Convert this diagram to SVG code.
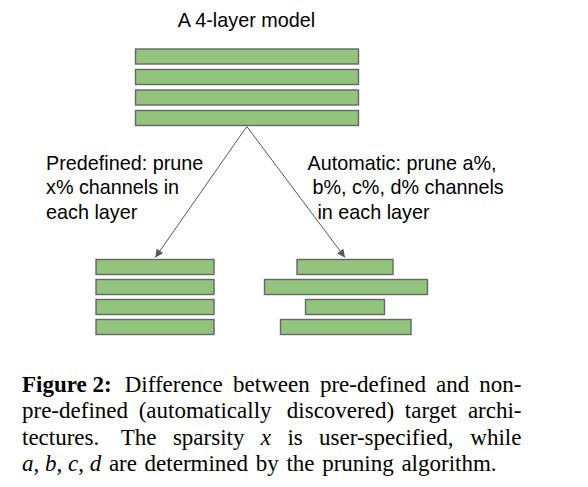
<svg xmlns="http://www.w3.org/2000/svg" width="588" height="487" viewBox="0 0 588 487">
<defs>
<style>
.bar{fill:#93c47d;stroke:#666;stroke-width:1.4}
.lbl{font-family:"Liberation Sans",Arial,sans-serif;font-size:19.8px;fill:#000}
.cap{font-family:"Liberation Serif","Times New Roman",serif;font-size:23px;fill:#000}
.b{font-weight:bold}
.i{font-style:italic}
.conn{stroke:#595959;stroke-width:1;fill:none}
</style>
<marker id="ah" viewBox="0 0 10 10" refX="10" refY="5" markerWidth="9" markerHeight="8" markerUnits="userSpaceOnUse" orient="auto">
<path d="M0,0 L10,5 L0,10 z" fill="#595959"/>
</marker>
</defs>
<rect width="588" height="487" fill="#fff"/>

<g id="model4">
<text class="lbl" x="177.7" y="26.5">A 4-layer model</text>
<rect class="bar" x="135.5" y="49" width="223" height="15"/>
<rect class="bar" x="135.5" y="69.5" width="223" height="15"/>
<rect class="bar" x="135.5" y="90" width="223" height="15"/>
<rect class="bar" x="135.5" y="110.5" width="223" height="15"/>
</g>

<g id="predefined">
<rect class="bar" x="96" y="259.5" width="118" height="15"/>
<rect class="bar" x="96" y="279.5" width="118" height="15"/>
<rect class="bar" x="96" y="299.5" width="118" height="15"/>
<rect class="bar" x="96" y="319.5" width="118" height="15"/>
</g>

<g id="automatic">
<rect class="bar" x="297" y="259.5" width="96" height="15"/>
<rect class="bar" x="264.5" y="279.5" width="163" height="15"/>
<rect class="bar" x="305.5" y="299.5" width="79" height="15"/>
<rect class="bar" x="280.5" y="319.5" width="130.5" height="15"/>
</g>

<g id="connectors">
<line class="conn" x1="246.8" y1="126.5" x2="155.3" y2="257.5" marker-end="url(#ah)"/>
<line class="conn" x1="246.8" y1="126.5" x2="345" y2="257.5" marker-end="url(#ah)"/>
<g id="label-predefined">
<text class="lbl" x="46" y="169.5">Predefined: prune</text>
<text class="lbl" x="46" y="194">x% channels in</text>
<text class="lbl" x="46" y="218.5">each layer</text>
</g>
<g id="label-automatic">
<text class="lbl" x="307.5" y="169.5">Automatic: prune a%,</text>
<text class="lbl" x="312.4" y="194">b%, c%, d% channels</text>
<text class="lbl" x="317.4" y="218.5">in each layer</text>
</g>
</g>

<g id="caption" class="cap">
<text y="392"><tspan class="b" x="22">Figure 2:</tspan><tspan x="124.7">Difference</tspan><tspan x="233.1">between</tspan><tspan x="319.9">pre-defined</tspan><tspan x="436">and</tspan><tspan x="479.3">non-</tspan></text>
<text y="418.3"><tspan x="22">pre-defined</tspan><tspan x="138.7">(automatically</tspan><tspan x="286.8">discovered)</tspan><tspan x="404.8">target</tspan><tspan x="467.9">archi-</tspan></text>
<text y="444.6"><tspan x="22">tectures.</tspan><tspan x="120.7">The</tspan><tspan x="172.9">sparsity</tspan><tspan class="i" x="260.8">x</tspan><tspan x="287.4">is</tspan><tspan x="319.1">user-specified,</tspan><tspan x="470.3">while</tspan></text>
<text y="471"><tspan class="i" x="22">a</tspan><tspan>, </tspan><tspan class="i">b</tspan><tspan>, </tspan><tspan class="i">c</tspan><tspan>, </tspan><tspan class="i">d</tspan><tspan x="108.9">are</tspan><tspan x="144.6">determined</tspan><tspan x="255.7">by</tspan><tspan x="286.4">the</tspan><tspan x="322.2">pruning</tspan><tspan x="401.4">algorithm.</tspan></text>
</g>
</svg>
